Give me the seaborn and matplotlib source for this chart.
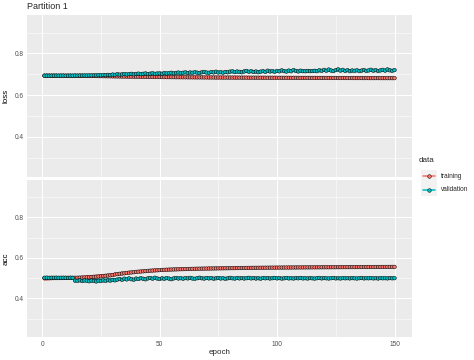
import numpy as np
import pandas as pd
import matplotlib
matplotlib.use("Agg")
import matplotlib.pyplot as plt
from matplotlib.lines import Line2D
from matplotlib.patches import Rectangle
import seaborn as sns

sns.set_style("white")
plt.rcParams['font.family'] = ['Liberation Sans', 'DejaVu Sans']

epochs = list(range(1, 151))
metrics = ["loss", "acc"]
series = ["training", "validation"]
colors = {"training": "#F8766D", "validation": "#00BFC4"}
title = "Partition 1"

loss_training = [
    0.6933, 0.6932, 0.6932, 0.6931, 0.6931, 0.6930, 0.6930, 0.6929, 0.6929, 0.6928,
    0.6928, 0.6927, 0.6926, 0.6926, 0.6925, 0.6924, 0.6923, 0.6922, 0.6921, 0.6920,
    0.6918, 0.6917, 0.6915, 0.6913, 0.6911, 0.6909, 0.6907, 0.6905, 0.6903, 0.6901,
    0.6899, 0.6897, 0.6895, 0.6893, 0.6891, 0.6889, 0.6887, 0.6885, 0.6884, 0.6882,
    0.6880, 0.6879, 0.6877, 0.6876, 0.6874, 0.6873, 0.6871, 0.6870, 0.6869, 0.6868,
    0.6866, 0.6865, 0.6864, 0.6863, 0.6862, 0.6861, 0.6860, 0.6859, 0.6858, 0.6857,
    0.6856, 0.6855, 0.6854, 0.6853, 0.6852, 0.6851, 0.6851, 0.6850, 0.6849, 0.6848,
    0.6847, 0.6847, 0.6846, 0.6845, 0.6844, 0.6844, 0.6843, 0.6842, 0.6842, 0.6841,
    0.6840, 0.6840, 0.6839, 0.6839, 0.6838, 0.6837, 0.6837, 0.6836, 0.6836, 0.6835,
    0.6835, 0.6834, 0.6834, 0.6833, 0.6833, 0.6832, 0.6832, 0.6831, 0.6831, 0.6830,
    0.6830, 0.6829, 0.6829, 0.6829, 0.6828, 0.6828, 0.6827, 0.6827, 0.6827, 0.6826,
    0.6826, 0.6825, 0.6825, 0.6825, 0.6824, 0.6824, 0.6824, 0.6823, 0.6823, 0.6823,
    0.6822, 0.6822, 0.6822, 0.6821, 0.6821, 0.6821, 0.6820, 0.6820, 0.6820, 0.6819,
    0.6819, 0.6819, 0.6818, 0.6818, 0.6818, 0.6818, 0.6817, 0.6817, 0.6817, 0.6816,
    0.6816, 0.6816, 0.6816, 0.6815, 0.6815, 0.6815, 0.6814, 0.6814, 0.6814, 0.6814,
]

loss_validation = [
    0.6932, 0.6934, 0.6931, 0.6935, 0.6933, 0.6936, 0.6932, 0.6934, 0.6937, 0.6933,
    0.6935, 0.6938, 0.6934, 0.6940, 0.6936, 0.6942, 0.6939, 0.6945, 0.6941, 0.6948,
    0.6944, 0.6952, 0.6947, 0.6958, 0.6951, 0.6963, 0.6957, 0.6970, 0.6962, 0.6985,
    0.6972, 0.7005, 0.6980, 0.6995, 0.7012, 0.6990, 0.7008, 0.7020, 0.6998, 0.7015,
    0.7030, 0.7005, 0.7022, 0.7040, 0.7012, 0.7028, 0.7050, 0.7020, 0.7035, 0.7045,
    0.7025, 0.7060, 0.7038, 0.7055, 0.7070, 0.7042, 0.7065, 0.7080, 0.7050, 0.7072,
    0.7090, 0.7060, 0.7085, 0.7070, 0.7100, 0.7075, 0.7060, 0.7095, 0.7110, 0.7080,
    0.7070, 0.7105, 0.7090, 0.7120, 0.7085, 0.7100, 0.7075, 0.7110, 0.7095, 0.7125,
    0.7140, 0.7105, 0.7130, 0.7115, 0.7100, 0.7135, 0.7160, 0.7120, 0.7145, 0.7110,
    0.7130, 0.7100, 0.7125, 0.7150, 0.7115, 0.7170, 0.7135, 0.7150, 0.7120, 0.7160,
    0.7140, 0.7185, 0.7150, 0.7130, 0.7175, 0.7145, 0.7200, 0.7160, 0.7135, 0.7170,
    0.7150, 0.7145, 0.7160, 0.7150, 0.7155, 0.7165, 0.7150, 0.7190, 0.7165, 0.7210,
    0.7170, 0.7225, 0.7180, 0.7155, 0.7200, 0.7235, 0.7175, 0.7210, 0.7160, 0.7195,
    0.7150, 0.7180, 0.7165, 0.7190, 0.7155, 0.7175, 0.7205, 0.7160, 0.7185, 0.7215,
    0.7170, 0.7200, 0.7155, 0.7185, 0.7210, 0.7175, 0.7230, 0.7190, 0.7165, 0.7200,
]

acc_training = [
    0.5000, 0.5001, 0.5002, 0.5003, 0.5004, 0.5005, 0.5006, 0.5007, 0.5008, 0.5010,
    0.5012, 0.5014, 0.5016, 0.5019, 0.5022, 0.5026, 0.5030, 0.5035, 0.5041, 0.5048,
    0.5056, 0.5064, 0.5073, 0.5083, 0.5094, 0.5105, 0.5117, 0.5129, 0.5141, 0.5154,
    0.5185, 0.5200, 0.5215, 0.5230, 0.5244, 0.5258, 0.5271, 0.5284, 0.5296, 0.5308,
    0.5319, 0.5330, 0.5340, 0.5350, 0.5359, 0.5368, 0.5376, 0.5384, 0.5391, 0.5398,
    0.5404, 0.5410, 0.5416, 0.5421, 0.5426, 0.5431, 0.5435, 0.5439, 0.5443, 0.5447,
    0.5450, 0.5453, 0.5456, 0.5459, 0.5462, 0.5465, 0.5467, 0.5470, 0.5472, 0.5474,
    0.5477, 0.5479, 0.5481, 0.5483, 0.5485, 0.5487, 0.5489, 0.5491, 0.5493, 0.5494,
    0.5496, 0.5498, 0.5499, 0.5501, 0.5502, 0.5504, 0.5505, 0.5507, 0.5508, 0.5509,
    0.5511, 0.5512, 0.5513, 0.5514, 0.5516, 0.5517, 0.5518, 0.5519, 0.5520, 0.5521,
    0.5522, 0.5523, 0.5524, 0.5525, 0.5526, 0.5527, 0.5528, 0.5529, 0.5530, 0.5531,
    0.5532, 0.5533, 0.5533, 0.5534, 0.5535, 0.5536, 0.5537, 0.5537, 0.5538, 0.5539,
    0.5540, 0.5540, 0.5541, 0.5542, 0.5542, 0.5543, 0.5544, 0.5544, 0.5545, 0.5546,
    0.5546, 0.5547, 0.5547, 0.5548, 0.5549, 0.5549, 0.5550, 0.5550, 0.5551, 0.5551,
    0.5552, 0.5552, 0.5553, 0.5553, 0.5554, 0.5554, 0.5555, 0.5555, 0.5556, 0.5556,
]

acc_validation = [
    0.5020, 0.5025, 0.5018, 0.5022, 0.5020, 0.5024, 0.5019, 0.5021, 0.5023, 0.5020,
    0.5018, 0.5022, 0.5015, 0.4880, 0.4870, 0.4895, 0.4860, 0.4885, 0.4875, 0.4850,
    0.4880, 0.4865, 0.4840, 0.4875, 0.4860, 0.4890, 0.4870, 0.4900, 0.4880, 0.4910,
    0.4895, 0.4930, 0.4960, 0.4920, 0.4975, 0.4940, 0.4990, 0.4950, 0.4925, 0.4980,
    0.4960, 0.5000, 0.4970, 0.4945, 0.4990, 0.5010, 0.4975, 0.5020, 0.4985, 0.4960,
    0.4995, 0.4970, 0.5005, 0.4980, 0.4950, 0.4990, 0.5010, 0.4985, 0.5000, 0.4975,
    0.5005, 0.4990, 0.5015, 0.4985, 0.4970, 0.5000, 0.5020, 0.4995, 0.4980, 0.5010,
    0.4990, 0.5005, 0.4975, 0.4995, 0.5010, 0.4985, 0.5000, 0.4970, 0.4995, 0.5015,
    0.4995, 0.4980, 0.5010, 0.4990, 0.5005, 0.4985, 0.5000, 0.5015, 0.4990, 0.5005,
    0.4985, 0.5000, 0.4975, 0.5010, 0.4995, 0.5005, 0.4985, 0.5000, 0.5010, 0.4990,
    0.5005, 0.4980, 0.4995, 0.5010, 0.4990, 0.5000, 0.4985, 0.5005, 0.4995, 0.5010,
    0.4990, 0.5000, 0.4985, 0.5005, 0.4995, 0.4980, 0.5000, 0.5010, 0.4990, 0.5005,
    0.4995, 0.4985, 0.5000, 0.5010, 0.4990, 0.5000, 0.4985, 0.5005, 0.4995, 0.5000,
    0.4990, 0.5005, 0.4995, 0.4985, 0.5000, 0.5010, 0.4990, 0.5000, 0.4995, 0.5005,
    0.4990, 0.5000, 0.4985, 0.5005, 0.4995, 0.5000, 0.4990, 0.5005, 0.4995, 0.5000,
]

values = {
    ("loss", "training"): loss_training,
    ("loss", "validation"): loss_validation,
    ("acc", "training"): acc_training,
    ("acc", "validation"): acc_validation,
}

rows = []
for (m, s), v in values.items():
    for e, val in zip(epochs, v):
        rows.append({"epoch": e, "value": val, "data": s, "metric": m})
df = pd.DataFrame(rows)


def loess(x, y, span=0.75):
    x = np.asarray(x, float)
    y = np.asarray(y, float)
    n = len(x)
    q = int(np.floor(n * span))
    out = np.empty(n)
    for i, xi in enumerate(x):
        d = np.abs(x - xi)
        h = np.sort(d)[q - 1]
        w = np.clip(1 - (d / h) ** 3, 0, None) ** 3
        coef = np.polyfit(x, y, 2, w=np.sqrt(w))
        out[i] = np.polyval(coef, xi)
    return out


smooth_rows = []
for (m, s), v in values.items():
    sm = loess(epochs, v)
    for e, val in zip(epochs, sm):
        smooth_rows.append({"epoch": e, "value": val, "data": s, "metric": m})
sdf = pd.DataFrame(smooth_rows)

W, H = 474, 360
fig = plt.figure(figsize=(W / 72, H / 72), dpi=72)

left, right = 27, 412
panels = {"loss": (15, 176.5), "acc": (180, 337)}

tick_fs = 6.5
for m in metrics:
    top, bot = panels[m]
    ax = fig.add_axes([left / W, 1 - bot / H, (right - left) / W, (bot - top) / H])
    ax.set_facecolor("#EBEBEB")
    for sp in ax.spines.values():
        sp.set_visible(False)
    sns.lineplot(data=sdf[sdf.metric == m], x="epoch", y="value", hue="data",
                 palette=colors, hue_order=series, linewidth=1.6, legend=False,
                 ax=ax, zorder=3)
    sns.scatterplot(data=df[df.metric == m], x="epoch", y="value", hue="data",
                    palette=colors, hue_order=series, edgecolor="black",
                    linewidth=0.5, s=13, legend=False, ax=ax, zorder=4)
    ax.set_xlim(-6.45, 157.45)
    ax.set_ylim(0.21, 0.984)
    ax.set_xticks([0, 50, 100, 150])
    ax.set_xticks([25, 75, 125], minor=True)
    ax.set_yticks([0.4, 0.6, 0.8])
    ax.set_yticks([0.3, 0.5, 0.7, 0.9], minor=True)
    ax.grid(True, which="major", color="white", linewidth=1.0)
    ax.grid(True, which="minor", color="white", linewidth=0.5)
    ax.set_axisbelow(True)
    ax.tick_params(which="major", length=2, width=0.6, color="#333333",
                   labelsize=tick_fs, labelcolor="#4D4D4D", pad=1.5)
    ax.tick_params(which="minor", length=0)
    ax.set_ylabel("")
    ax.set_yticklabels(["0.4", "0.6", "0.8"])
    if m == "loss":
        ax.set_xlabel("")
        ax.tick_params(axis="x", which="both", length=0, labelbottom=False)
    else:
        ax.set_xlabel("epoch", fontsize=8, labelpad=2)
    fig.text(6 / W, 1 - ((top + bot) / 2) / H, m, rotation=90, ha="center",
             va="center", fontsize=8, color="black")

fig.text(left / W, 1 - 6.5 / H, title, ha="left", va="center", fontsize=9)

# legend
fig.text(419 / W, 1 - 161 / H, "data", ha="left", va="center", fontsize=8)
for i, s in enumerate(series):
    yc = 176 + i * 13.5
    fig.patches.append(Rectangle((421 / W, 1 - (yc + 6.5) / H), 16 / W, 13 / H,
                                 transform=fig.transFigure, facecolor="#F2F2F2",
                                 edgecolor="none"))
    fig.lines.append(Line2D([423 / W, 435 / W], [1 - yc / H, 1 - yc / H],
                            transform=fig.transFigure, color=colors[s],
                            linewidth=1.6))
    fig.lines.append(Line2D([429 / W], [1 - yc / H], transform=fig.transFigure,
                            marker="o", markersize=3.6, markerfacecolor=colors[s],
                            markeredgecolor="black", markeredgewidth=0.5,
                            linestyle="none"))
    fig.text(441 / W, 1 - yc / H, s, ha="left", va="center", fontsize=6.5)

fig.savefig("out.png", dpi=72)
